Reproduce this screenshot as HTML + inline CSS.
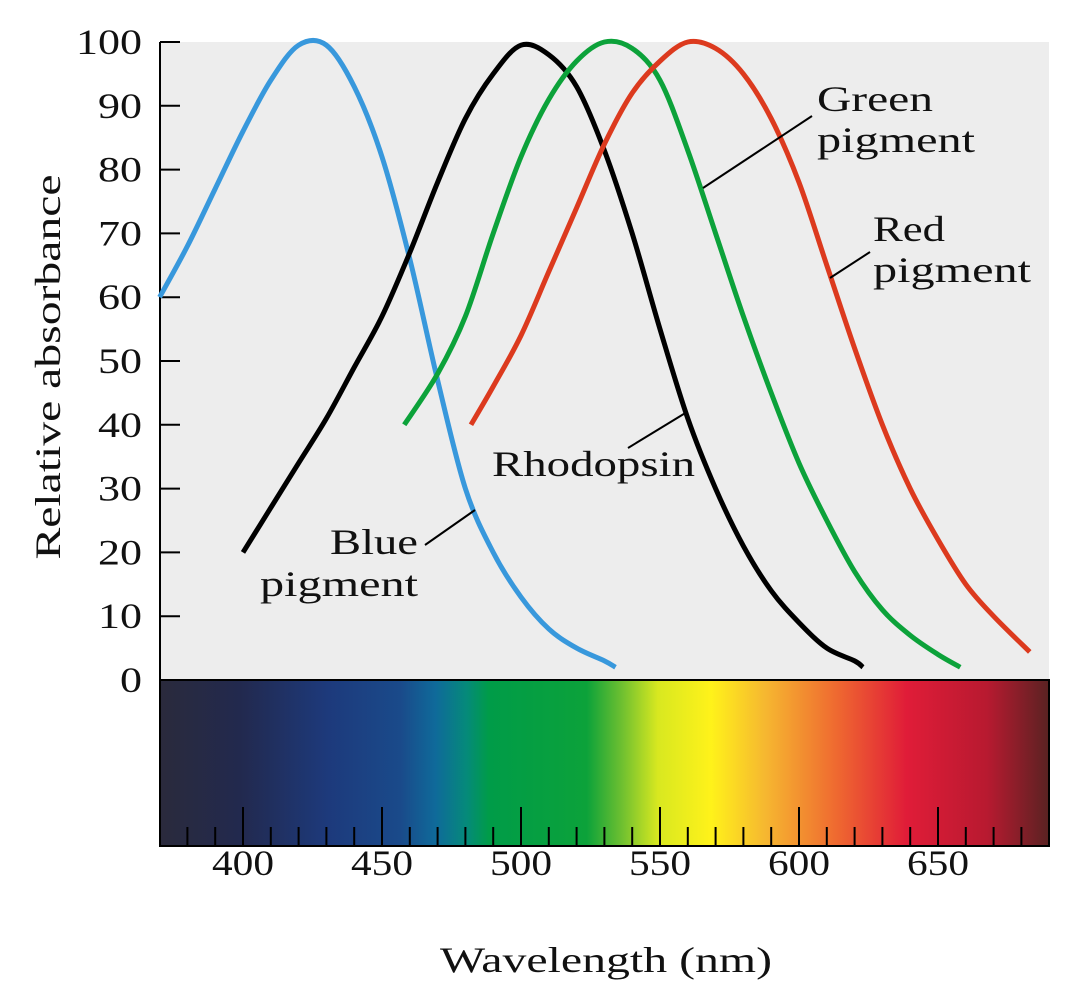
<!DOCTYPE html>
<html><head><meta charset="utf-8"><style>
html,body{margin:0;padding:0;background:#fff;}
svg text{font-family:"Liberation Serif",serif;fill:#111;}
</style></head><body>
<svg id="chart" width="1075" height="1000" viewBox="0 0 1075 1000" xmlns="http://www.w3.org/2000/svg">
<defs>
<linearGradient id="spec" x1="0" x2="1" y1="0" y2="0">
<stop offset="0" stop-color="#2a2a3c"/>
<stop offset="0.09" stop-color="#22294e"/>
<stop offset="0.19" stop-color="#1d3a7c"/>
<stop offset="0.27" stop-color="#1a4a8a"/>
<stop offset="0.31" stop-color="#0f6a9a"/>
<stop offset="0.345" stop-color="#058a7a"/>
<stop offset="0.37" stop-color="#009c48"/>
<stop offset="0.48" stop-color="#0ca23a"/>
<stop offset="0.52" stop-color="#6fc030"/>
<stop offset="0.56" stop-color="#d8e820"/>
<stop offset="0.62" stop-color="#fff21a"/>
<stop offset="0.68" stop-color="#f6b830"/>
<stop offset="0.76" stop-color="#ef6a30"/>
<stop offset="0.84" stop-color="#e01c38"/>
<stop offset="0.93" stop-color="#b81a30"/>
<stop offset="1" stop-color="#5a2222"/>
</linearGradient>
</defs>
<rect x="160" y="42" width="889" height="638" fill="#ededed"/>
<rect x="160" y="680" width="889" height="166" fill="url(#spec)" stroke="#000" stroke-width="2"/>
<g id="axes"></g>
<g id="series"></g>
<g id="labels" font-size="36">
<text x="0" y="0" text-anchor="middle" textLength="385" lengthAdjust="spacingAndGlyphs" transform="translate(60,367) rotate(-90)">Relative absorbance</text>
<text x="440" y="972" textLength="332" lengthAdjust="spacingAndGlyphs">Wavelength (nm)</text>
<text x="817" y="111" textLength="116" lengthAdjust="spacingAndGlyphs">Green</text>
<text x="817" y="152" textLength="158" lengthAdjust="spacingAndGlyphs">pigment</text>
<text x="873" y="241" textLength="72" lengthAdjust="spacingAndGlyphs">Red</text>
<text x="873" y="282" textLength="158" lengthAdjust="spacingAndGlyphs">pigment</text>
<text x="492" y="476" textLength="203" lengthAdjust="spacingAndGlyphs">Rhodopsin</text>
<text x="330" y="554" textLength="88" lengthAdjust="spacingAndGlyphs">Blue</text>
<text x="260" y="596" textLength="158" lengthAdjust="spacingAndGlyphs">pigment</text>
<line x1="703" y1="188" x2="812" y2="116" stroke="#000" stroke-width="2"/>
<line x1="830" y1="278" x2="870" y2="252" stroke="#000" stroke-width="2"/>
<line x1="628" y1="448" x2="687" y2="412" stroke="#000" stroke-width="2"/>
<line x1="425" y1="545" x2="475" y2="510" stroke="#000" stroke-width="2"/>
</g>
</svg>
<script>
const yTicks=[0,10,20,30,40,50,60,70,80,90,100];
const xTickLabels=[400,450,500,550,600,650];
const blueNm=[370,380,390,400,410,420,430,440,450,460,470,480,490,500,510,520,530,534];
const blueVal=[60,68,77,86,94,99.5,99.5,93,82,66,47,30,20,13,8,5,3,2];
const rhodNm=[400,410,420,430,440,450,460,470,480,490,500,510,520,530,540,550,560,570,580,590,600,610,620,623];
const rhodVal=[20,27,34,41,49,57,67,78,88,95,99.5,98,93,83,70,55,41,30,21,14,9,5,3,2];
const greenNm=[458,470,480,490,500,510,520,530,540,550,560,570,580,590,600,610,620,630,640,650,658];
const greenVal=[40,48,57,70,82,91,97,100,99,94,83,70,57,45,34,25,17,11,7,4,2];
const redNm=[482,490,500,510,520,530,540,550,560,570,580,590,600,610,620,630,640,650,660,670,683];
const redVal=[40,46,54,64,74,84,92,97,100,99,95,88,78,65,52,40,30,22,15,10,4.4];

const NS="http://www.w3.org/2000/svg";
const xs=nm=>243+(nm-400)*2.78;
const ys=v=>680-v*6.38;
const axes=document.getElementById('axes');
function mk(tag,attrs,parent){const e=document.createElementNS(NS,tag);for(const k in attrs)e.setAttribute(k,attrs[k]);parent.appendChild(e);return e;}
const axisLine=mk('line',{x1:160,y1:42,x2:160,y2:680,stroke:'#000','stroke-width':2},axes);


yTicks.forEach(v=>{
  const t=mk('line',{x1:160,x2:180,y1:ys(v),y2:ys(v),stroke:'#000','stroke-width':2},axes);
  
  
  const s=String(v);
  const l=mk('text',{x:142,y:ys(v)+12,'font-size':36,'text-anchor':'end',textLength:s.length*22,lengthAdjust:'spacingAndGlyphs'},axes);
  l.textContent=s;
  
  
});
for(let nm=380;nm<=680;nm+=10){
  const major=nm%50===0;
  const t=mk('line',{x1:xs(nm),x2:xs(nm),y1:major?807:827,y2:846,stroke:'#000','stroke-width':2},axes);
  
  
}
xTickLabels.forEach(nm=>{
  const l=mk('text',{x:xs(nm),y:875,'font-size':36,'text-anchor':'middle',textLength:62,lengthAdjust:'spacingAndGlyphs'},axes);
  l.textContent=nm;
  
  
});
const series=document.getElementById('series');
function curve(nms,vals,color,name){
  const pts=nms.map((n,i)=>[xs(n),ys(vals[i])]);
  let d='M'+pts[0][0]+','+pts[0][1];
  for(let i=0;i<pts.length-1;i++){
    const p0=pts[i-1]||pts[i],p1=pts[i],p2=pts[i+1],p3=pts[i+2]||p2;
    const c1=[p1[0]+(p2[0]-p0[0])/6,p1[1]+(p2[1]-p0[1])/6];
    const c2=[p2[0]-(p3[0]-p1[0])/6,p2[1]-(p3[1]-p1[1])/6];
    d+=' C'+c1+' '+c2+' '+p2;
  }
  const p=mk('path',{d:d,fill:'none',stroke:color,'stroke-width':5,'stroke-linejoin':'round'},series);
  
  
}
curve(blueNm,blueVal,'#3898dc','blue-pigment-curve');
curve(rhodNm,rhodVal,'#000000','rhodopsin-curve');
curve(greenNm,greenVal,'#0ca23a','green-pigment-curve');
curve(redNm,redVal,'#dc3a1e','red-pigment-curve');
</script>
</body></html>
